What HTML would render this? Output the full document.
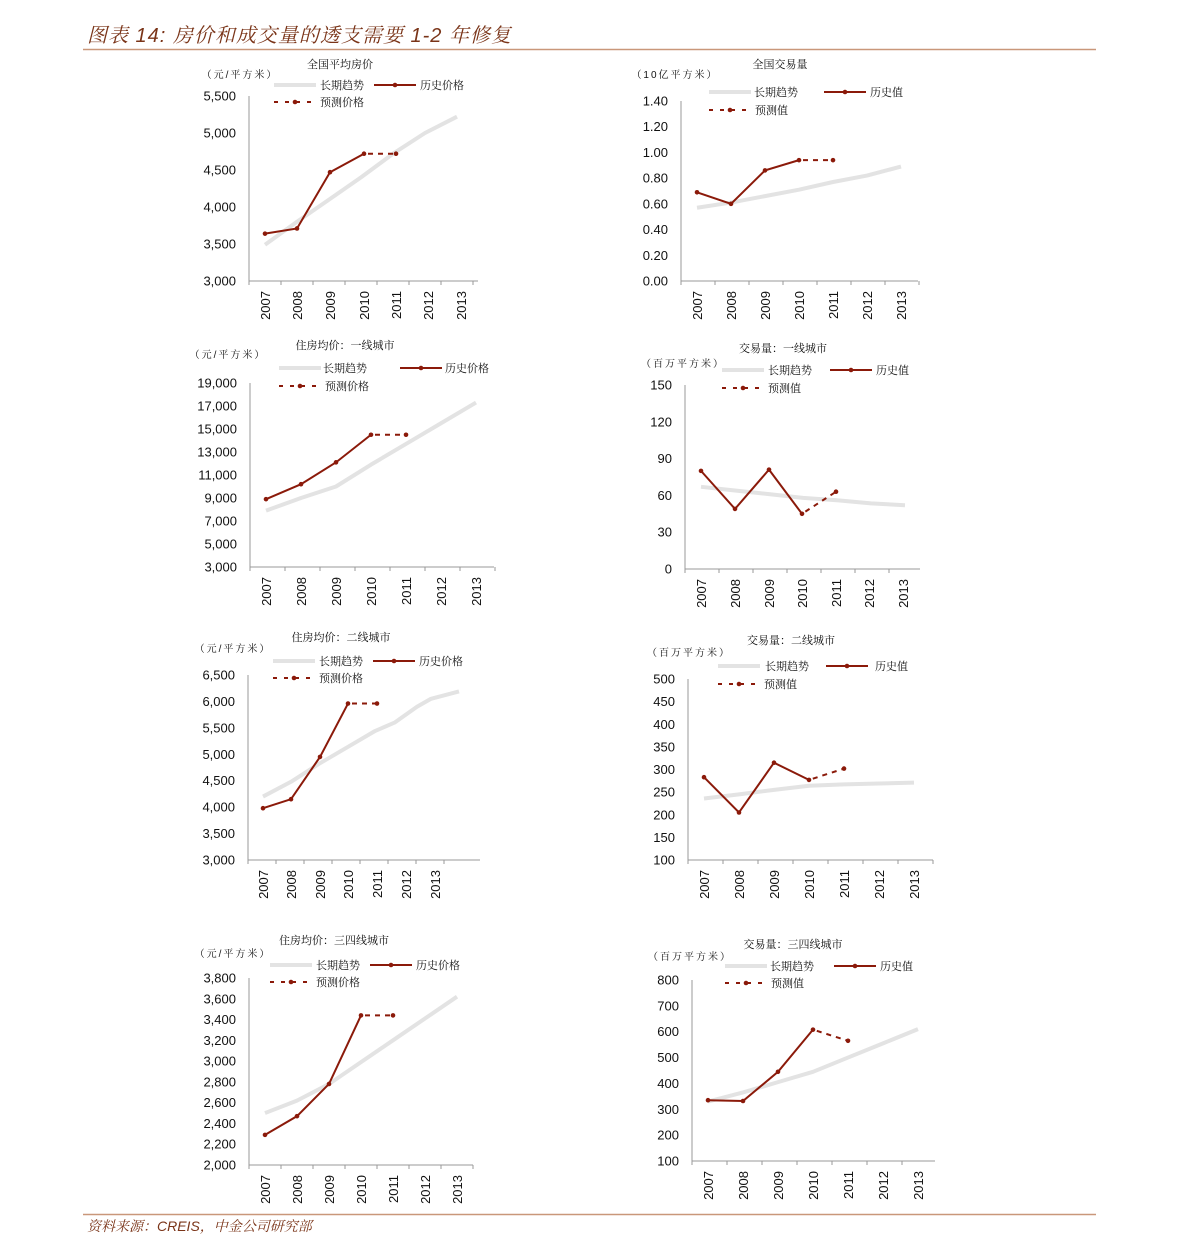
<!DOCTYPE html>
<html><head><meta charset="utf-8"><style>
body{margin:0;background:#fff;width:1191px;height:1254px;overflow:hidden}
svg{display:block}
text{font-family:"Liberation Sans","Noto Serif CJK SC","Noto Sans CJK SC",sans-serif}
</style></head><body>
<svg id="s" width="1191" height="1254" xmlns="http://www.w3.org/2000/svg">
<text x="87" y="42" font-size="20" letter-spacing="1" font-style="italic" fill="#7a3418" font-family="Liberation Sans,Noto Sans CJK SC,sans-serif">图表 14: 房价和成交量的透支需要 1-2 年修复</text>
<line x1="83" y1="49.5" x2="1096" y2="49.5" stroke="#c9977a" stroke-width="1.5"/>
<line x1="83" y1="1214.5" x2="1096" y2="1214.5" stroke="#c9977a" stroke-width="1.5"/>
<text x="87" y="1231" font-size="14" font-style="italic" fill="#7a3418">资料来源：CREIS，中金公司研究部</text>
</svg>
<script>
var s=document.getElementById('s'),h='';
var C=[
{ax:249,end:478,yt:96,yb:281,vmax:5500,vmin:3000,ticks:[5500,5000,4500,4000,3500,3000],fmt:1,dec:0,cx:[265,297,330,364,396,428,461],hist:[3640,3710,4470,4720],fc:[[3,4720],[4,4720]],tr:[[0,3490],[1,3800],[2,4100],[3,4400],[4,4720],[5,5000],[6,5220]],title:"全国平均房价",tx:340,ty:68,unit:"（元/平方米）",ux:240,uy:78,lg:[274,85,320,374,420,"长期趋势","历史价格","预测价格",102]},
{ax:681,end:918,yt:101,yb:281,vmax:1.4,vmin:0,ticks:[1.4,1.2,1,0.8,0.6,0.4,0.2,0],dec:2,cx:[697,731,765,799,833,867,901],hist:[0.69,0.6,0.86,0.94],fc:[[3,0.94],[4,0.94]],tr:[[0,0.57],[1,0.61],[2,0.66],[3,0.71],[4,0.77],[5,0.82],[6,0.89]],title:"全国交易量",tx:780,ty:68,unit:"（10亿平方米）",ux:675,uy:78,lg:[709,92,754,824,870,"长期趋势","历史值","预测值",110]},
{ax:250,end:494,yt:383,yb:567,vmax:19000,vmin:3000,ticks:[19000,17000,15000,13000,11000,9000,7000,5000,3000],fmt:1,dec:0,cx:[266,301,336,371,406,441,476],hist:[8900,10200,12100,14500],fc:[[3,14500],[4,14500]],tr:[[0,7900],[1,9000],[2,10000],[3,11900],[4,13700],[5,15500],[6,17300]],title:"住房均价：一线城市",tx:345,ty:349,unit:"（元/平方米）",ux:228,uy:358,lg:[279,368,323,400,445,"长期趋势","历史价格","预测价格",386]},
{ax:685,end:920,yt:385,yb:569,vmax:150,vmin:0,ticks:[150,120,90,60,30,0],dec:0,cx:[701,735,769,802,836,869,903],hist:[80,49,81,45],fc:[[3,45],[4,63]],tr:[[0,67],[1,64],[2,61],[3,58],[4,56],[5,53.5],[6,52]],title:"交易量：一线城市",tx:783,ty:352,unit:"（百万平方米）",ux:683,uy:367,lg:[722,370,768,830,876,"长期趋势","历史值","预测值",388]},
{ax:248,end:480,yt:675,yb:860,vmax:6500,vmin:3000,ticks:[6500,6000,5500,5000,4500,4000,3500,3000],fmt:1,dec:0,cx:[263,291,320,348,377,406,435],hist:[3980,4150,4950,5960],fc:[[3,5960],[4,5960]],tr:[[0,4200],[1,4480],[2,4820],[3,5130],[4,5440],[4.7,5600],[5.5,5900],[6,6050],[7,6190]],title:"住房均价：二线城市",tx:341,ty:641,unit:"（元/平方米）",ux:233,uy:652,lg:[273,661,319,373,419,"长期趋势","历史价格","预测价格",678]},
{ax:688,end:933,yt:679,yb:860,vmax:500,vmin:100,ticks:[500,450,400,350,300,250,200,150,100],dec:0,cx:[704,739,774,809,844,879,914],hist:[283,205,315,277],fc:[[3,277],[4,302]],tr:[[0,236],[1,245],[2,255],[3,264],[4,267],[5,269],[6,271]],title:"交易量：二线城市",tx:791,ty:644,unit:"（百万平方米）",ux:689,uy:656,lg:[718,666,765,826,875,"长期趋势","历史值","预测值",684]},
{ax:249,end:473,yt:978,yb:1165,vmax:3800,vmin:2000,ticks:[3800,3600,3400,3200,3000,2800,2600,2400,2200,2000],fmt:1,dec:0,cx:[265,297,329,361,393,425,457],hist:[2290,2470,2780,3440],fc:[[3,3440],[4,3440]],tr:[[0,2500],[1,2620],[2,2780],[3,2990],[4,3200],[5,3410],[6,3620]],title:"住房均价：三四线城市",tx:334,ty:944,unit:"（元/平方米）",ux:233,uy:957,lg:[270,965,316,370,416,"长期趋势","历史价格","预测价格",982]},
{ax:692,end:935,yt:980,yb:1161,vmax:800,vmin:100,ticks:[800,700,600,500,400,300,200,100],dec:0,cx:[708,743,778,813,848,883,918],hist:[335,332,445,608],fc:[[3,608],[4,565]],tr:[[0,330],[1,365],[2,405],[3,445],[4,500],[5,555],[6,610]],title:"交易量：三四线城市",tx:793,ty:948,unit:"（百万平方米）",ux:690,uy:960,lg:[725,966,770,834,880,"长期趋势","历史值","预测值",983]}
];
var R="#8b1a0a",G="#e3e3e3";
function f(v,c){var t=v.toFixed(c.dec);if(c.fmt)t=t.replace(/\B(?=(\d{3})+(?!\d))/g,",");return t}
C.forEach(function(c){
 var Y=function(v){return c.yb-(v-c.vmin)/(c.vmax-c.vmin)*(c.yb-c.yt)};
 var step=c.cx[1]-c.cx[0];
 var X=function(i){return c.cx[0]+i*step};
 h+='<line x1="'+c.ax+'" y1="'+c.yt+'" x2="'+c.ax+'" y2="'+c.yb+'" stroke="#999"/>';
 h+='<line x1="'+c.ax+'" y1="'+c.yb+'" x2="'+c.end+'" y2="'+c.yb+'" stroke="#999"/>';
 for(var i=0;i<=7;i++){var tx=c.ax+i*step;if(tx<=c.end+1)h+='<line x1="'+tx+'" y1="'+c.yb+'" x2="'+tx+'" y2="'+(c.yb+4)+'" stroke="#999"/>';}
 c.ticks.forEach(function(t){h+='<text x="'+(c.ax-13)+'" y="'+(Y(t)+4.5)+'" font-size="13" text-anchor="end" fill="#111">'+f(t,c)+'</text>';});
 for(var i=0;i<7;i++){var x=c.cx[i]+5,y=c.yb+10;h+='<text transform="translate('+x+','+y+') rotate(-90)" font-size="13" text-anchor="end" fill="#111">'+(2007+i)+'</text>';}
 h+='<polyline fill="none" stroke="'+G+'" stroke-width="4" stroke-linejoin="round" points="'+c.tr.map(function(p){return X(p[0])+','+Y(p[1])}).join(' ')+'"/>';
 h+='<polyline fill="none" stroke="'+R+'" stroke-width="2" points="'+c.hist.map(function(v,i){return c.cx[i]+','+Y(v)}).join(' ')+'"/>';
 h+='<line x1="'+c.cx[3]+'" y1="'+Y(c.fc[0][1])+'" x2="'+c.cx[4]+'" y2="'+Y(c.fc[1][1])+'" stroke="'+R+'" stroke-width="2" stroke-dasharray="5,5" stroke-dashoffset="-4"/>';
 c.hist.forEach(function(v,i){h+='<circle cx="'+c.cx[i]+'" cy="'+Y(v)+'" r="2.3" fill="'+R+'"/>';});
 h+='<circle cx="'+c.cx[4]+'" cy="'+Y(c.fc[1][1])+'" r="2.3" fill="'+R+'"/>';
 h+='<text x="'+c.tx+'" y="'+c.ty+'" font-size="11" text-anchor="middle" fill="#111">'+c.title+'</text>';
 h+='<text x="'+c.ux+'" y="'+c.uy+'" font-size="10" text-anchor="middle" fill="#111" letter-spacing="2">'+c.unit+'</text>';
 var L=c.lg,ly=L[1];
 h+='<line x1="'+L[0]+'" y1="'+ly+'" x2="'+(L[0]+42)+'" y2="'+ly+'" stroke="'+G+'" stroke-width="4"/>';
 h+='<text x="'+L[2]+'" y="'+(ly+4)+'" font-size="11" fill="#111">'+L[5]+'</text>';
 h+='<line x1="'+L[3]+'" y1="'+ly+'" x2="'+(L[3]+42)+'" y2="'+ly+'" stroke="'+R+'" stroke-width="2"/><circle cx="'+(L[3]+21)+'" cy="'+ly+'" r="2.3" fill="'+R+'"/>';
 h+='<text x="'+L[4]+'" y="'+(ly+4)+'" font-size="11" fill="#111">'+L[6]+'</text>';
 var fy=L[8];
 h+='<line x1="'+L[0]+'" y1="'+fy+'" x2="'+(L[0]+42)+'" y2="'+fy+'" stroke="'+R+'" stroke-width="2" stroke-dasharray="4,7"/><circle cx="'+(L[0]+21)+'" cy="'+fy+'" r="2.3" fill="'+R+'"/>';
 h+='<text x="'+(L[0]+46)+'" y="'+(fy+4)+'" font-size="11" fill="#111">'+L[7]+'</text>';
});
s.insertAdjacentHTML('beforeend',h);
</script>
</body></html>
